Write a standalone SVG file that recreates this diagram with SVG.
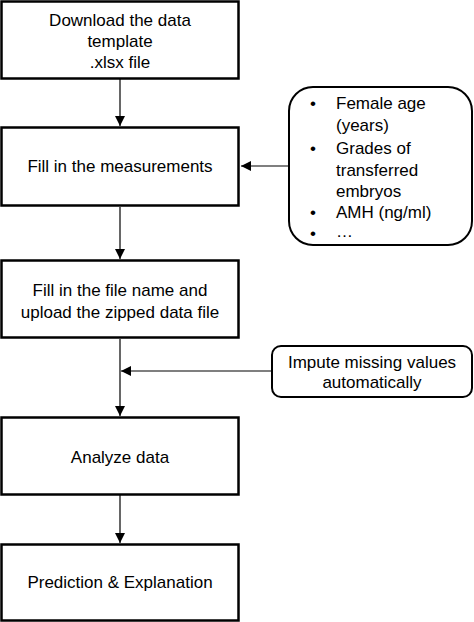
<svg xmlns="http://www.w3.org/2000/svg" width="474" height="622" viewBox="0 0 474 622">
<defs>
<style>
.box{fill:#fff;stroke:#000;stroke-width:2.5}
.side{fill:#fff;stroke:#000;stroke-width:2}
.t{font-family:"Liberation Sans",Arial,sans-serif;font-size:17px;fill:#000}
.c{text-anchor:middle}
.ln{stroke:#000;stroke-width:1.2;fill:none}
</style>
<marker id="ah" viewBox="0 0 10 10" refX="10" refY="5" markerWidth="10" markerHeight="10" markerUnits="userSpaceOnUse" orient="auto">
<path d="M0,0 L10,5 L0,10 Z" fill="#000"/>
</marker>
</defs>
<rect width="474" height="622" fill="#fff"/>
<g id="connectors">
<line class="ln" x1="120" y1="79" x2="120" y2="126" marker-end="url(#ah)"/>
<line class="ln" x1="289" y1="166" x2="241" y2="166" marker-end="url(#ah)"/>
<line class="ln" x1="120" y1="339" x2="120" y2="416" marker-end="url(#ah)"/>
<line class="ln" x1="271" y1="371" x2="121" y2="371" marker-end="url(#ah)"/>
<line class="ln" x1="120" y1="495" x2="120" y2="543" marker-end="url(#ah)"/>
<line class="ln" x1="120" y1="207" x2="120" y2="259" marker-end="url(#ah)"/>
</g>
<g id="n1">
<rect class="box" x="1.5" y="1.5" width="237" height="77"/>
<text class="t c" x="120" y="26">Download the data</text>
<text class="t c" x="120" y="47">template</text>
<text class="t c" x="120" y="68">.xlsx file</text>
</g>
<g id="n2">
<rect class="box" x="1.5" y="127.5" width="237" height="78"/>
<text class="t c" x="120" y="172">Fill in the measurements</text>
</g>
<g id="n3">
<rect class="box" x="1.5" y="260.5" width="237" height="77"/>
<text class="t c" x="120" y="296">Fill in the file name and</text>
<text class="t c" x="120" y="318">upload the zipped data file</text>
</g>
<g id="n4">
<rect class="box" x="1.5" y="417.5" width="237" height="77"/>
<text class="t c" x="120" y="463">Analyze data</text>
</g>
<g id="n5">
<rect class="box" x="1.5" y="544.5" width="237" height="76"/>
<text class="t c" x="120" y="588">Prediction &amp; Explanation</text>
</g>
<g id="inputs">
<rect class="side" x="289" y="87" width="183" height="158" rx="24" ry="24"/>
<text class="t c" x="313" y="109">•</text>
<text class="t" x="336" y="109">Female age</text>
<text class="t" x="336" y="131">(years)</text>
<text class="t c" x="313" y="154">•</text>
<text class="t" x="336" y="154">Grades of</text>
<text class="t" x="336" y="176">transferred</text>
<text class="t" x="336" y="197">embryos</text>
<text class="t c" x="313" y="218">•</text>
<text class="t" x="336" y="218">AMH (ng/ml)</text>
<text class="t c" x="313" y="239">•</text>
<text class="t" x="336" y="237">…</text>
</g>
<g id="impute">
<rect class="side" x="272" y="346" width="200" height="51" rx="9" ry="9"/>
<text class="t c" x="372" y="368">Impute missing values</text>
<text class="t c" x="372" y="388">automatically</text>
</g>
</svg>
